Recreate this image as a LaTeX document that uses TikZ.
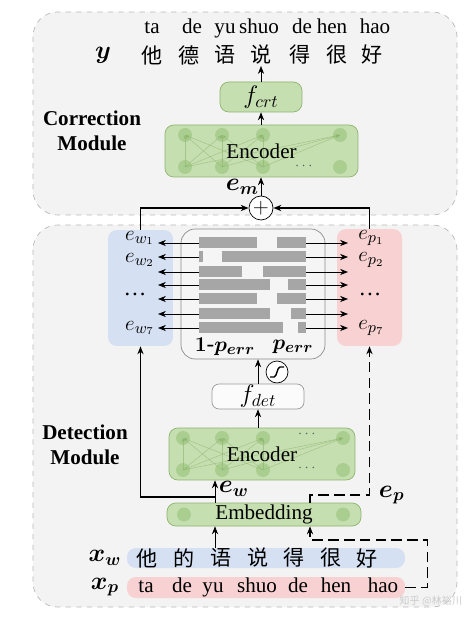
\documentclass[tikz,border=0pt]{standalone}
\usepackage{amsmath}
\usepackage{bm}
\usepackage{fontspec}
\setmainfont{Liberation Serif}
\newfontfamily\cjk{Noto Sans CJK SC}
\usetikzlibrary{arrows.meta, positioning}

\definecolor{modfill}{HTML}{F3F3F3}
\definecolor{encfill}{HTML}{C6DFB1}
\definecolor{encdraw}{HTML}{8DB46C}
\definecolor{neuron}{HTML}{9FC882}
\definecolor{wfill}{HTML}{D5E1F3}
\definecolor{pfill}{HTML}{F8D2D2}
\definecolor{barfill}{HTML}{A6A6A6}

\begin{document}
\begin{tikzpicture}[
        x=0.02cm, y=-0.02cm,
        >={Stealth[length=4.5pt,width=3.5pt]},
        font=\fontsize{12}{14}\selectfont,
        module/.style={draw=gray!55, dashed, rounded corners=14pt, fill=modfill},
        encbox/.style={draw=encdraw, fill=encfill, rounded corners=5pt, inner sep=0pt},
        gatebox/.style={draw=gray!90, fill=gray!8, rounded corners=8pt, inner sep=0pt},
        embbox/.style={rectangle, rounded corners=5pt, inner sep=0pt},
        neuronnode/.style={circle, fill=neuron, fill opacity=0.7, minimum size=0.28cm, inner sep=0pt},
        neuronline/.style={draw=encdraw, opacity=0.6, line width=0.3pt},
        label/.style={font=\fontsize{13}{15}\selectfont, inner sep=0pt},
        modname/.style={font=\fontsize{12}{14}\selectfont\bfseries, align=center},
        char/.style={font=\fontsize{12}{14}\selectfont\cjk, inner sep=0pt},
    ]
    \useasboundingbox (0,0) rectangle (474,617);

    % Modules
    \draw[module] (33,12) rectangle (457,215);
    \draw[module] (33,225) rectangle (457,607);
    \node[modname] (corrname) at (92,131) {Correction\\Module};
    \node[modname] (detname) at (85,445) {Detection\\Module};

    % Correction module
    \node[char, font=\fontsize{14}{16}\selectfont] (ylab) at (103,55) {$\bm{y}$};
    \foreach \cx/\ch [count=\i] in {152/他,189/德,225/语,261/说,300/得,337/很,372/好}
        \node[char] (yc\i) at (\cx,55) {\ch};
    \foreach \cx/\py [count=\i] in {152/ta,192/de,225/yu,259/shuo,302/de,332/hen,375/hao}
        \node[inner sep=0pt, anchor=base] (yp\i) at (\cx,34) {\py};
    \coordinate (ytop) at (261,66);

    \node[encbox, minimum width=1.64cm, minimum height=0.6cm] (fcrt) at (261,97) {};
    \node[font=\fontsize{14}{16}\selectfont] at (fcrt) {$f_{crt}$};
    \node[encbox, minimum width=3.86cm, minimum height=1.04cm] (encC) at (261.5,151) {};
    \foreach \nx in {185,222,263,340} {
        \node[neuronnode] at (\nx,135) {};
        \node[neuronnode] at (\nx,167) {};
    }
    \foreach \a in {185,222,263} \foreach \b in {185,222,263,340}
        \draw[neuronline, -{Stealth[length=2.5pt]}] (\a,167) -- (\b,135);
    \node[text=gray!70!black, font=\footnotesize] at (305,166) {$\cdots$};
    \node (enctextC) at (encC) {Encoder};

    \node[circle, draw, fill=white, minimum size=0.48cm, inner sep=0pt, font=\fontsize{13}{13}\selectfont] (plus) at (261,208) {};
    \node at (plus) {$+$};

    % Detection module
    \node[embbox, fill=wfill, minimum width=1.3cm, minimum height=2.32cm] (ewbox) at (140.5,288) {};
    \node[embbox, fill=pfill, minimum width=1.3cm, minimum height=2.34cm] (epbox) at (369.5,287.5) {};
    \node[gatebox, minimum width=2.88cm, minimum height=2.6cm] (gate) at (253,294) {};

    \foreach \ry/\le/\rs [count=\i] in {243/257/277, 257/203/222, 272/242/263, 285/270/288,
                                       299/257/277, 314/270/291, 328/283/298} {
        \fill[barfill] (199,\ry-5.5) rectangle (\le,\ry+5.5);
        \fill[barfill] (\rs,\ry-5.5) rectangle (306,\ry+5.5);
        \draw[->] (199,\ry) -- (158,\ry);
        \draw[->] (306,\ry) -- (348,\ry);
    }
    \node[label] (perrl) at (225,347) {$\bm{1\text{-}p_{err}}$};
    \node[label] (perrr) at (293,347) {$\bm{p_{err}}$};

    \node[label, anchor=east] (ew1) at (155,238) {$e_{w_1}$};
    \node[label, anchor=east] (ew2) at (155,260) {$e_{w_2}$};
    \node[label] (ewd) at (135,294) {\dots};
    \node[label, anchor=east] (ew7) at (155,328) {$e_{w_7}$};
    \node[label, anchor=west] (ep1) at (358,238) {$e_{p_1}$};
    \node[label, anchor=west] (ep2) at (358,260) {$e_{p_2}$};
    \node[label] (epd) at (370,294) {\dots};
    \node[label, anchor=west] (ep7) at (358,328) {$e_{p_7}$};

    \node[circle, draw, fill=white, minimum size=0.44cm, inner sep=0pt] (sig) at (277,372) {};
    \draw[line width=0.8pt] ([shift={(-7,5)}]sig.center) -- ([shift={(-3,5)}]sig.center)
        .. controls ([shift={(0,5)}]sig.center) and ([shift={(0,-5)}]sig.center) .. ([shift={(3,-5)}]sig.center)
        -- ([shift={(7,-5)}]sig.center);

    \node[draw=gray!80, fill=gray!3, rounded corners=4pt, minimum width=1.84cm, minimum height=0.5cm, inner sep=0pt] (fdet) at (258,396.5) {};
    \node[font=\fontsize{14}{16}\selectfont] at (fdet) {$f_{det}$};

    \node[encbox, minimum width=3.72cm, minimum height=1.04cm] (encD) at (262,454) {};
    \foreach \nx in {183,222,263,343} {
        \node[neuronnode] at (\nx,438) {};
        \node[neuronnode] at (\nx,470) {};
    }
    \foreach \a in {183,222,263} \foreach \b in {183,222,263,343}
        \draw[neuronline, -{Stealth[length=2.5pt]}] (\a,470) -- (\b,438);
    \node[text=gray!70!black, font=\footnotesize] at (308,434) {$\cdots$};
    \node[text=gray!70!black, font=\footnotesize] at (308,468) {$\cdots$};
    \node (enctextD) at (encD) {Encoder};

    \node[encbox, minimum width=3.88cm, minimum height=0.46cm] (emb) at (264,514.5) {};
    \foreach \nx in {184,343}
        \node[neuronnode] at (\nx,514.5) {};
    \node (embtext) at (emb) {Embedding};

    % Inputs
    \node[embbox, fill=wfill, minimum width=5.56cm, minimum height=0.4cm] (xw) at (266,558) {};
    \node[embbox, fill=pfill, minimum width=5.56cm, minimum height=0.42cm] (xp) at (266,587.5) {};
    \node[label, font=\fontsize{14}{16}\selectfont] (xwlab) at (105,558) {$\bm{x_w}$};
    \node[label, font=\fontsize{14}{16}\selectfont] (xplab) at (105,587) {$\bm{x_p}$};
    \foreach \cx/\ch [count=\i] in {147/他,184/的,221/语,258/说,294/得,331/很,367/好}
        \node[char] (xc\i) at (\cx,558) {\ch};
    \foreach \cx/\py [count=\i] in {146/ta,182/de,213/yu,257/shuo,298/de,336/hen,383/hao}
        \node[inner sep=0pt, anchor=base] (xpy\i) at (\cx,592) {\py};
    \node[text=gray!40, font=\fontsize{5.8}{7}\selectfont\cjk, anchor=west, inner sep=0pt] (mark) at (399,601) {知乎 @林裕川};

    % Edges
    \coordinate (ewsplit) at (215,497);
    \coordinate (epsplit) at (310,495);
    \coordinate (xpturn) at (310,540);

    \draw[->] (fcrt.north) -- (ytop);
    \draw[->] (encC.north -| fcrt) -- (fcrt.south);
    \draw[->] (plus.north) -- node[label, left=1pt, font=\fontsize{14}{16}\selectfont] {$\bm{e_m}$} (plus.north |- encC.south);
    \draw[->, line width=0.8pt] (ewbox.north) |- (plus.west);
    \draw[->, line width=0.8pt] (epbox.north) |- (plus.east);

    \draw[->] (fdet.north) -- (fdet.north |- gate.south);
    \draw[->] (fdet.south |- encD.north) -- (fdet.south);
    \draw[->] (emb.north -| ewsplit) -- node[label, right=2pt, pos=0.6, font=\fontsize{14}{16}\selectfont] {$\bm{e_w}$} (encD.south -| ewsplit);
    \draw[->, line width=0.8pt] (ewsplit) -| (ewbox.south);
    \draw[->, line width=0.8pt, dash pattern=on 6pt off 3pt] (emb.north -| epsplit) -- (epsplit) -| node[label, pos=0.5, right=5pt, font=\fontsize{14}{16}\selectfont] {$\bm{e_p}$} (epbox.south);
    \draw[->] (xw.north -| ewsplit) -- (emb.south -| ewsplit);
    \draw[->, line width=0.8pt, dash pattern=on 6pt off 3pt] (xp.east) -- ++(22,0) |- (xpturn) -- (xpturn |- emb.south);

\end{tikzpicture}
\end{document}
